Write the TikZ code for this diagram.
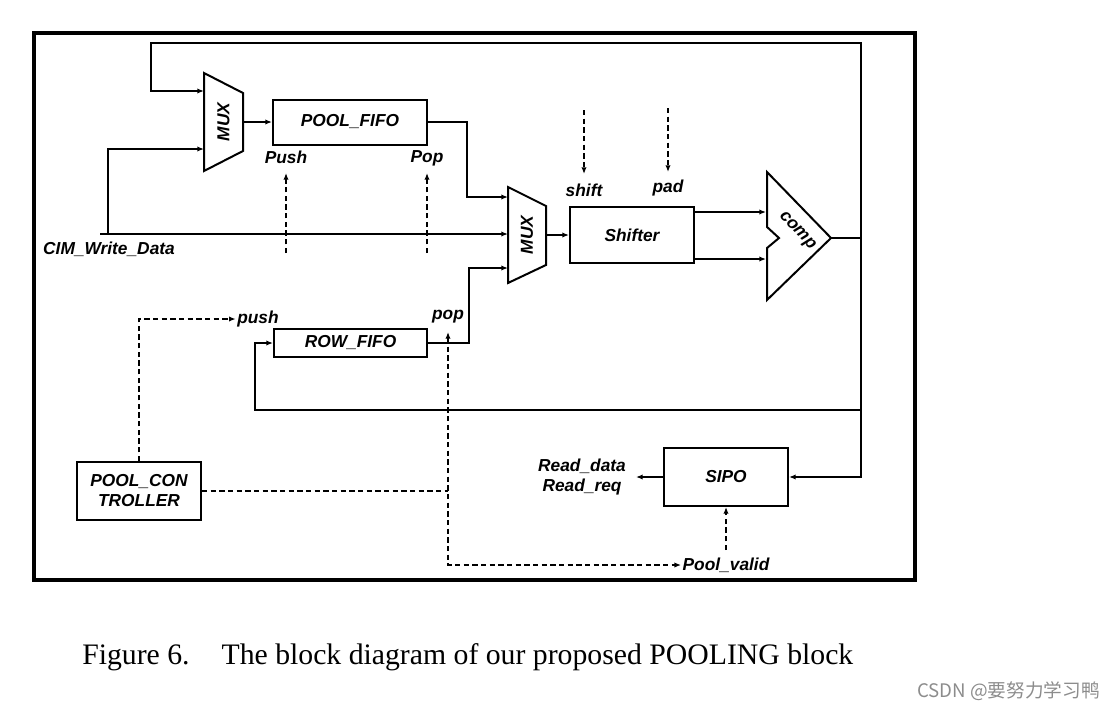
\documentclass[tikz,border=0pt]{standalone}
\usepackage{fontspec}
\setmainfont{Liberation Serif}
\setsansfont{Liberation Sans}
\newfontfamily\cjk{Noto Sans CJK SC}
\usepackage{tikz}
\usetikzlibrary{arrows.meta}

\begin{document}
\begin{tikzpicture}[
		x=0.75pt, y=-0.75pt,
		>={Latex[length=5pt,width=4pt]},
		boxnode/.style={rectangle, draw=black, line width=1.5pt, inner sep=0pt, font=\sffamily\bfseries\itshape\fontsize{13}{15}\selectfont},
		sig/.style={font=\sffamily\bfseries\itshape\fontsize{13}{15}\selectfont, inner sep=1pt},
		wire/.style={line width=1.5pt},
		ctrlline/.style={line width=1.5pt, dash pattern=on 4pt off 2.5pt},
	]
		\useasboundingbox (0,0) rectangle (1116,710);
		\draw[line width=2.5pt] (34,33) rectangle (915,580);

		% nodes
		\node[boxnode, minimum width=115.5pt, minimum height=33.75pt] (poolfifo) at (350,122) {POOL\_FIFO};
		\node[boxnode, minimum width=93pt, minimum height=42pt] (shifter) at (632,235) {Shifter};
		\node[boxnode, minimum width=114.75pt, minimum height=21pt] (rowfifo) at (350.5,343) {ROW\_FIFO};
		\node[boxnode, minimum width=93pt, minimum height=43.5pt, align=center] (ctrl) at (139,491) {POOL\_CON\\TROLLER};
		\node[boxnode, minimum width=93pt, minimum height=43.5pt] (sipo) at (726,477) {SIPO};

		% mux and comp shapes
		\draw[wire] (204,73) -- (243,93) -- (243,151) -- (204,171) -- cycle;
		\node[sig, rotate=90] (mux1) at (223.5,122) {MUX};
		\draw[wire] (508,187) -- (546,206) -- (546,265) -- (508,283) -- cycle;
		\node[sig, rotate=90] (mux2) at (527,235) {MUX};
		\draw[wire] (767,172) -- (831,238) -- (767,300) -- (767,248) -- (779,238) -- (767,227) -- cycle;
		\node[sig, rotate=-47, inner sep=0pt] (comp) at (797,231) {comp};

		% ports
		\coordinate (mux1in1) at (204,91);
		\coordinate (mux1in2) at (204,149);
		\coordinate (mux1out) at (243,122);
		\coordinate (mux2in1) at (508,197);
		\coordinate (mux2in2) at (508,234);
		\coordinate (mux2in3) at (508,268);
		\coordinate (mux2out) at (546,235);
		\coordinate (compin1) at (766,212);
		\coordinate (compin2) at (766,259);
		\coordinate (compout) at (831,238);
		\coordinate (fb) at (861,238);
		\coordinate (fbrow) at (861,410);
		\coordinate (cim) at (100,234);
		\coordinate (cimtap) at (108,234);

		% labels
		\node[sig] (cimlabel) at (109,249) {CIM\_Write\_Data};
		\node[sig] (pushlabel) at (286,157) {Push};
		\node[sig] (poplabel) at (427,158) {Pop};
		\node[sig] (shiftlabel) at (584,190) {shift};
		\node[sig] (padlabel) at (668,188) {pad};
		\node[sig] (rowpush) at (258,319) {push};
		\node[sig] (rowpop) at (448,317) {pop};
		\node[sig, align=center] (readlabel) at (582,477) {Read\_data\\Read\_req};
		\node[sig] (validlabel) at (726,565) {Pool\_valid};

		% lines
		\draw[wire, ->] (cim) -- (mux2in2);
		\draw[wire, ->] (cimtap) |- (mux1in2);
		\draw[wire, ->] (mux1out) -- (poolfifo.west);
		\draw[wire, ->] (poolfifo.east) -- ++(39,0) |- (mux2in1);
		\draw[wire, ->] (rowfifo.east) -- ++(41,0) |- (mux2in3);
		\draw[wire, ->] (mux2out) -- (shifter.west);
		\draw[wire, ->] (shifter.east |- compin1) -- (compin1);
		\draw[wire, ->] (shifter.east |- compin2) -- (compin2);
		\draw[wire] (compout) -- (fb);
		\draw[wire, ->] (fb) |- (151,43) |- (mux1in1);
		\draw[wire, ->] (fb) |- (sipo.east);
		\draw[wire, ->] (fbrow) -- (255,410) |- (rowfifo.west);
		\draw[wire, ->] (sipo.west) -- ++(-27,0);

		% control lines
		\draw[ctrlline, ->] (286,253) -- (286,173);
		\draw[ctrlline, ->] (427,253) -- (427,173);
		\draw[ctrlline, ->] (584,110) -- (584,174);
		\draw[ctrlline, ->] (668,108) -- (668,172);
		\draw[ctrlline, ->] (ctrl.north) |- (rowpush.west);
		\draw[ctrlline] (ctrl.east) -- (448,491);
		\draw[ctrlline, <->] (448,332) |- (validlabel.west);
		\draw[ctrlline, ->] (726,550) -- (sipo.south);

		% caption
		\node[anchor=base west, font=\fontsize{22.3}{26}\selectfont, inner sep=0pt] (caption) at (82,664) {Figure 6.\hspace{24pt}The block diagram of our proposed POOLING block};
		\node[anchor=base east, font=\cjk\fontsize{14}{16}\selectfont, text=black!45, inner sep=0pt] (mark) at (1100,697) {CSDN @要努力学习鸭};
	\end{tikzpicture}
\end{document}
